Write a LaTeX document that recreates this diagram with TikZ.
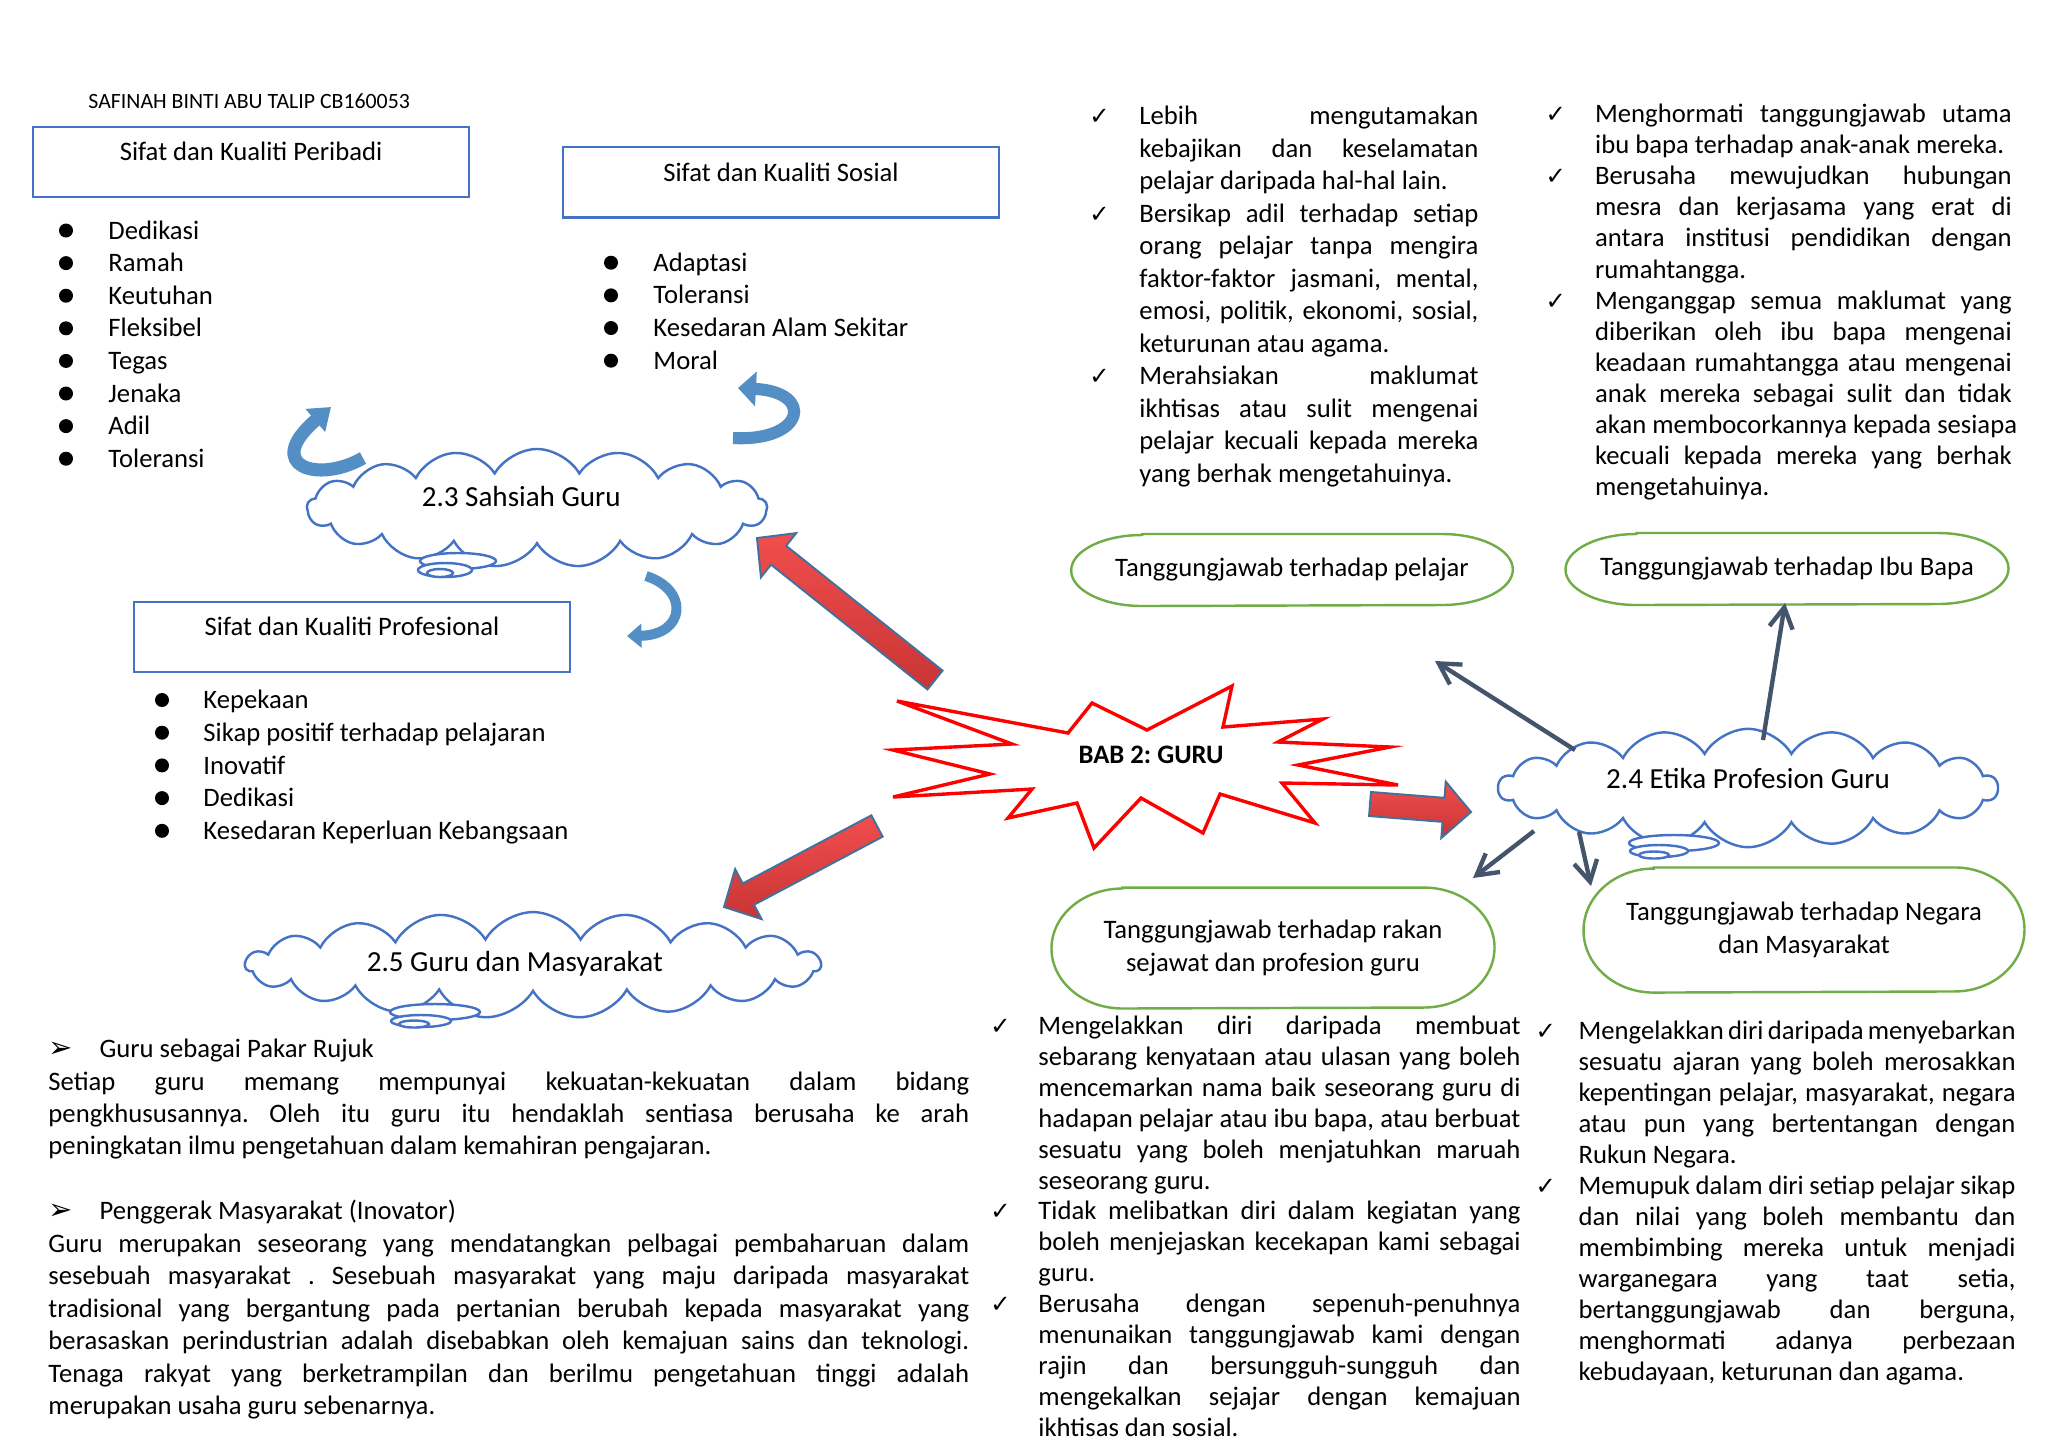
\documentclass[tikz,border=0pt]{standalone}
\usepackage{fontspec}
\setmainfont{Carlito}
\newfontfamily\symfont{DejaVu Sans}
\usetikzlibrary{arrows.meta, positioning, shapes.symbols, calc}
\definecolor{cblue}{HTML}{4472C4}
\definecolor{cgreen}{HTML}{70AD47}
\definecolor{cred}{HTML}{FF0000}
\definecolor{cslate}{HTML}{44546A}
\definecolor{clight}{HTML}{5B9BD5}
\definecolor{cdark}{HTML}{41719C}
\definecolor{credA}{HTML}{F24E4E}
\definecolor{credB}{HTML}{C83434}
\hyphenpenalty=10000 \exhyphenpenalty=10000 \tolerance=10000 \hbadness=10000
\frenchspacing
\newcommand\chk{{\symfont\fontsize{10}{10}\selectfont ✓}}
\newcommand\arrowmark{{\symfont\fontsize{12}{12}\selectfont ➢}}
\newcommand\chkitem[1]{\hangindent=\chkind\hangafter=1\makebox[\chkind][l]{\chk}#1\par}
% green terminator outline round a node: node, x radius, y radius (px)
\newcommand\termline[3]{\draw[termline] ($(#1.north west)+(#2,0)$) -- ($(#1.north east)+(-#2,0)$)
  arc[start angle=-90, end angle=90, x radius=#2, y radius=#3] -- ($(#1.south west)+(#2,0)$)
  arc[start angle=90, end angle=270, x radius=#2, y radius=#3] -- cycle;}
% red block arrow from tail to head coordinate
\newcommand\blockarrow[2]{\coordinate (#2-base) at ($(#2)!4mm!(#1)$);
  \draw[bigarrow] ($(#1)!1.75mm!90:(#2)$) -- ($(#2-base)!1.75mm!90:(#2)$) -- ($(#2-base)!4.1mm!90:(#2)$) -- (#2)
    -- ($(#2-base)!4.1mm!-90:(#2)$) -- ($(#2-base)!1.75mm!-90:(#2)$) -- ($(#1)!1.75mm!-90:(#2)$) -- cycle;}
\tikzset{
  every picture/.style={font=\fontsize{11}{13.4}\selectfont},
  bluebox/.style={draw=cblue, line width=1pt, minimum width=63.2mm, minimum height=10.2mm, inner sep=4pt,
    text height=10pt, text depth=11pt, anchor=north},
  termbox/.style={inner sep=0pt, align=center},
  termline/.style={draw=cgreen, line width=1pt},
  puff/.style={cloud, cloud puffs=17, cloud puff arc=120, cloud ignores aspect, draw=cblue, line width=1pt,
    fill=white, text height=8pt, font=\fontsize{12}{14}\selectfont},
  bubble/.style={draw=cblue, line width=1pt, fill=white},
  item/.style={anchor=base west, inner sep=0pt},
  para/.style={anchor=base west, inner sep=0pt, align=justify},
  burst/.style={draw=cred, line width=1.4pt, line join=miter},
  bigarrow/.style={draw=cdark, line width=0.8pt, top color=credA, bottom color=credB},
  curl/.style={draw=clight!70!cdark},
  slate/.style={draw=cslate, line width=1.8pt, -{Straight Barb[length=3mm, width=3.4mm]}},
}
\begin{document}
\begin{tikzpicture}[x=0.145mm, y=-0.145mm]
  \path[fill=white] (0,0) rectangle (2048,1448);
  \useasboundingbox (0,0) rectangle (2048,1448);
  \node[item, font=\fontsize{9}{11}\selectfont] (author) at (88,108.5) {SAFINAH BINTI ABU TALIP CB160053};
  % sifat dan kualiti
  \node[bluebox] (peribadi) at (251,125.7) {Sifat dan Kualiti Peribadi};
  \node[bluebox] (sosial) at (781,146) {Sifat dan Kualiti Sosial};
  \node[bluebox] (profesional) at (352,600.7) {Sifat dan Kualiti Profesional};
  \foreach \t [count=\i from 0] in {Dedikasi,Ramah,Keutuhan,Fleksibel,Tegas,Jenaka,Adil,Toleransi} {
    \fill (66,230.5+32.6*\i) circle[radius=7];
    \node[item] (per\i) at (108,239.1+32.6*\i) {\t};
  }
  \foreach \t [count=\i from 0] in {Adaptasi,Toleransi,Kesedaran Alam Sekitar,Moral} {
    \fill (611,262.7+32.65*\i) circle[radius=7];
    \node[item] (sos\i) at (653,271.3+32.65*\i) {\t};
  }
  \foreach \t [count=\i from 0] in {Kepekaan,Sikap positif terhadap pelajaran,Inovatif,Dedikasi,Kesedaran Keperluan Kebangsaan} {
    \fill (162,700+32.7*\i) circle[radius=7];
    \node[item] (pro\i) at (203,708.6+32.7*\i) {\t};
  }
  % clouds
  \node[puff, text depth=9.4pt, minimum width=66.7mm, minimum height=15.5mm] (sahsiah) at (537,508) {2.3 Sahsiah Guru\hspace*{13pt}};
  \node[puff, cloud puffs=19, text depth=2.8pt, minimum width=83.4mm, minimum height=14.5mm] (masyarakat) at (533,965) {2.5 Guru dan Masyarakat\hspace*{15pt}};
  \node[puff, cloud puffs=18, text depth=7.8pt, minimum width=72.4mm, minimum height=15.5mm] (etika) at (1748,788) {2.4 Etika Profesion Guru};
  \foreach \x/\y/\rx/\ry in {458/561/38/8, 445/570/27/7, 440/573/13/4, 435/1012/45/8, 421/1021/30/6, 414/1024/15/3.5,
                             1674/843/45/8, 1659/851/29/6, 1654/855/15/3.5}
    \draw[bubble] (\x,\y) ellipse[x radius=\rx, y radius=\ry];
  % curved arrows round 2.3
  \draw[curl, line width=1.9mm, -{Triangle[width=4.2mm, length=3mm]}] (363,458) .. controls (318,484) and (262,466) .. (331,407);
  \draw[curl, line width=1.75mm, -{Triangle[width=4.9mm, length=2.6mm]}] (733,438) .. controls (805,442) and (815,392) .. (738,388);
  \draw[curl, line width=1.45mm, -{Triangle[width=3.4mm, length=2.1mm]}] (646,576) .. controls (690,590) and (685,635) .. (627,636);
  % BAB 2
  \draw[burst] (897,701) -- (1068,733) -- (1092,703) -- (1147,730) -- (1232,686) -- (1223,727) -- (1323,719) -- (1278,742)
    -- (1390,747) -- (1298,765) -- (1398,785) -- (1282,783) -- (1315,823) -- (1220,794) -- (1203,833) -- (1141,798)
    -- (1094,848) -- (1077,803) -- (1008,818) -- (1032,789) -- (893,797) -- (990,774) -- (893,750) -- (1012,744) -- cycle;
  \node[font=\fontsize{11}{13.4}\bfseries] (bab) at (1151,755) {BAB 2: GURU};
  \coordinate (babNW) at (935,680); \coordinate (sahIn) at (757,538);
  \coordinate (babSW) at (877,826); \coordinate (masIn) at (724,907);
  \coordinate (babE) at (1370,804); \coordinate (etiIn) at (1471,812);
  \blockarrow{babNW}{sahIn}
  \blockarrow{babSW}{masIn}
  \blockarrow{babE}{etiIn}
  % tanggungjawab
  \node[termbox, minimum width=63.9mm, minimum height=10.3mm] (pelajar) at (1292,570) {Tanggungjawab terhadap pelajar};
  \node[termbox, minimum width=64.1mm, minimum height=10.3mm] (ibubapa) at (1787,569) {Tanggungjawab terhadap Ibu Bapa};
  \node[termbox, minimum width=64.1mm, minimum height=17.4mm] (rakan) at (1273,948) {Tanggungjawab terhadap rakan\\sejawat dan profesion guru};
  \node[termbox, minimum width=63.8mm, minimum height=18mm] (negara) at (1804,930) {Tanggungjawab terhadap Negara\\dan Masyarakat};
  \termline{pelajar}{71}{35.5}
  \termline{ibubapa}{71}{35.5}
  \termline{rakan}{71}{60}
  \termline{negara}{70}{62}
  \coordinate (etA) at (1575,750); \coordinate (toPel) at (1435,661);
  \coordinate (etB) at (1763,740); \coordinate (toIbu) at (1785,603);
  \coordinate (etC) at (1534,831); \coordinate (toRak) at (1473,878);
  \coordinate (etD) at (1579,832); \coordinate (toNeg) at (1591,886);
  \draw[slate] (etA) -- (toPel); \draw[slate] (etB) -- (toIbu);
  \draw[slate] (etC) -- (toRak); \draw[slate] (etD) -- (toNeg);
  % pelajar and ibu bapa
  \node[para, text width=56.4mm, font=\fontsize{11}{13.42}\selectfont] (ptPel) at (1089,124.5) {\def\chkind{7.25mm}%
    \chkitem{Lebih mengutamakan\linebreak kebajikan dan keselamatan\linebreak pelajar daripada hal-hal lain.}%
    \chkitem{Bersikap adil terhadap setiap\linebreak orang pelajar tanpa mengira\linebreak faktor-faktor jasmani, mental,\linebreak emosi, politik, ekonomi, sosial,\linebreak keturunan atau agama.}%
    \chkitem{Merahsiakan maklumat\linebreak ikhtisas atau sulit mengenai\linebreak pelajar kecuali kepada mereka\linebreak yang berhak mengetahuinya.}};
  \node[para, text width=67.6mm, font=\fontsize{11}{12.83}\selectfont] (ptIbu) at (1545,122.5) {\def\chkind{7.2mm}%
    \chkitem{Menghormati tanggungjawab utama\linebreak ibu bapa terhadap anak-anak mereka.}%
    \chkitem{Berusaha mewujudkan hubungan\linebreak mesra dan kerjasama yang erat di\linebreak antara institusi pendidikan dengan\linebreak rumahtangga.}%
    \chkitem{Menganggap semua maklumat yang\linebreak diberikan oleh ibu bapa mengenai\linebreak keadaan rumahtangga atau mengenai\linebreak anak mereka sebagai sulit dan tidak\linebreak \mbox{akan membocorkannya kepada sesiapa}\linebreak kecuali kepada mereka yang berhak\linebreak mengetahuinya.}};
  % rakan sejawat and negara
  \node[para, text width=76.85mm, font=\fontsize{11}{12.75}\selectfont] (ptRak) at (990,1034.5) {\def\chkind{6.96mm}%
    \chkitem{Mengelakkan diri daripada membuat\linebreak sebarang kenyataan atau ulasan yang boleh\linebreak mencemarkan nama baik seseorang guru di\linebreak hadapan pelajar atau ibu bapa, atau berbuat\linebreak sesuatu yang boleh menjatuhkan maruah\linebreak seseorang guru.}%
    \chkitem{Tidak melibatkan diri dalam kegiatan yang\linebreak boleh menjejaskan kecekapan kami sebagai\linebreak guru.}%
    \chkitem{Berusaha dengan sepenuh-penuhnya\linebreak menunaikan tanggungjawab kami dengan\linebreak rajin dan bersungguh-sungguh dan\linebreak mengekalkan sejajar dengan kemajuan\linebreak ikhtisas dan sosial.}};
  \node[para, text width=69.6mm, font=\fontsize{11}{12.77}\selectfont] (ptNeg) at (1535,1039.5) {\def\chkind{6.25mm}%
    \chkitem{Mengelakkan diri daripada menyebarkan\linebreak sesuatu ajaran yang boleh merosakkan\linebreak kepentingan pelajar, masyarakat, negara\linebreak atau pun yang bertentangan dengan\linebreak Rukun Negara.}%
    \chkitem{Memupuk dalam diri setiap pelajar sikap\linebreak dan nilai yang boleh membantu dan\linebreak membimbing mereka untuk menjadi\linebreak warganegara yang taat setia,\linebreak bertanggungjawab dan berguna,\linebreak menghormati adanya perbezaan\linebreak kebudayaan, keturunan dan agama.}};
  % guru dan masyarakat
  \node[para, text width=133.5mm, font=\fontsize{11}{13.4}\selectfont] (ptMas) at (48,1057.5) {%
    \makebox[7.4mm][l]{\arrowmark}Guru sebagai Pakar Rujuk\par
    Setiap guru memang mempunyai kekuatan-kekuatan dalam bidang\linebreak pengkhususannya. Oleh itu guru itu hendaklah sentiasa berusaha ke arah\linebreak peningkatan ilmu pengetahuan dalam kemahiran pengajaran.\par
    \vskip\baselineskip
    \makebox[7.4mm][l]{\arrowmark}Penggerak Masyarakat (Inovator)\par
    Guru merupakan seseorang yang mendatangkan pelbagai pembaharuan dalam\linebreak sesebuah masyarakat . Sesebuah masyarakat yang maju daripada masyarakat\linebreak tradisional yang bergantung pada pertanian berubah kepada masyarakat yang\linebreak berasaskan perindustrian adalah disebabkan oleh kemajuan sains dan teknologi.\linebreak Tenaga rakyat yang berketrampilan dan berilmu pengetahuan tinggi adalah\linebreak merupakan usaha guru sebenarnya.\par};
\end{tikzpicture}
\end{document}
